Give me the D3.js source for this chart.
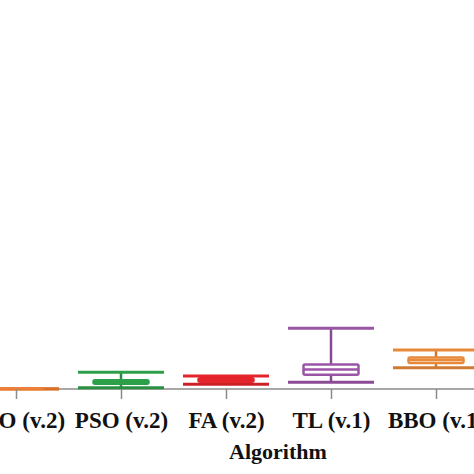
<!DOCTYPE html>
<html>
<head>
<meta charset="utf-8">
<script src="https://cdn.jsdelivr.net/npm/d3@7"></script>
<style>
  body { margin: 0; background: #fff; }
  svg { display: block; }
  .tick text, .x-title { font-family: "Liberation Serif", "Times New Roman", serif; font-weight: bold; fill: #111; }
</style>
</head>
<body>
<div id="chart"></div>
<script>
// categories and box statistics
const algorithms = ['BBO (v.2)', 'PSO (v.2)', 'FA (v.2)', 'TL (v.1)', 'BBO (v.1)'];
const minVals    = [0,   1.3,  4.7,  6.7, 21.3];
const q1Vals     = [0,   5.2,  7.2, 14.2, 26.0];
const medianVals = [0,   7.0,  9.0, 19.5, 29.0];
const q3Vals     = [0,   8.8, 10.8, 24.5, 31.5];
const maxVals    = [0.3, 16.7, 13.0, 60.7, 39.0];
const colors     = ['#ee7d31', '#2ca048', '#e3242b', '#9b55a6', '#e8893a'];

const width = 474, height = 474;
const axisY = 389;

const svg = d3.select('#chart').append('svg')
    .attr('width', width)
    .attr('height', height);

const x = d3.scalePoint().domain(algorithms).range([16, 436]);
const y = d3.scaleLinear().domain([0, 380]).range([axisY, 9]);

const capHalf = 43, boxHalf = 27.5;

const boxes = algorithms.map((name, i) => ({
    name, min: minVals[i], q1: q1Vals[i], median: medianVals[i],
    q3: q3Vals[i], max: maxVals[i], color: colors[i]
}));

// axis baseline spans the whole (cropped) plot
svg.append('line')
    .attr('x1', 0).attr('x2', width)
    .attr('y1', axisY).attr('y2', axisY)
    .attr('stroke', '#8a8a8a')
    .attr('stroke-width', 1.5);

const g = svg.selectAll('.box')
    .data(boxes)
    .enter().append('g')
    .attr('class', 'box');

// whiskers
g.append('line')
    .attr('x1', d => x(d.name)).attr('x2', d => x(d.name))
    .attr('y1', d => y(d.max)).attr('y2', d => y(d.q3))
    .attr('stroke', d => d3.color(d.color).darker(0.4))
    .attr('stroke-width', 2.5);
g.append('line')
    .attr('x1', d => x(d.name)).attr('x2', d => x(d.name))
    .attr('y1', d => y(d.q1)).attr('y2', d => y(d.min))
    .attr('stroke', d => d3.color(d.color).darker(0.4))
    .attr('stroke-width', 2.5);

// caps
g.append('line')
    .attr('x1', d => x(d.name) - capHalf).attr('x2', d => x(d.name) + capHalf)
    .attr('y1', d => y(d.max)).attr('y2', d => y(d.max))
    .attr('stroke', d => d.color)
    .attr('stroke-width', 3);
g.append('line')
    .attr('x1', d => x(d.name) - capHalf).attr('x2', d => x(d.name) + capHalf)
    .attr('y1', d => y(d.min)).attr('y2', d => y(d.min))
    .attr('stroke', d => d3.color(d.color).darker(0.3))
    .attr('stroke-width', 3);

// box
g.append('rect')
    .attr('x', d => x(d.name) - boxHalf)
    .attr('y', d => y(d.q3))
    .attr('width', boxHalf * 2)
    .attr('height', d => y(d.q1) - y(d.q3))
    .attr('rx', 1.5)
    .attr('fill', '#fff')
    .attr('stroke', d => d.color)
    .attr('stroke-width', 2.5);

// median
g.append('line')
    .attr('x1', d => x(d.name) - boxHalf).attr('x2', d => x(d.name) + boxHalf)
    .attr('y1', d => y(d.median)).attr('y2', d => y(d.median))
    .attr('stroke', d => d.color)
    .attr('stroke-width', 2.5);

// x axis ticks and labels
const xAxis = svg.append('g')
    .attr('class', 'x-axis')
    .attr('transform', `translate(0, ${axisY})`)
    .call(d3.axisBottom(x).tickSize(10).tickPadding(13).tickSizeOuter(0));
xAxis.select('.domain').remove();
xAxis.selectAll('.tick line').attr('stroke', '#8a8a8a').attr('stroke-width', 1.5);
xAxis.selectAll('.tick text').style('font-size', '23px');

svg.append('text')
    .attr('class', 'x-title')
    .attr('x', 278)
    .attr('y', 459)
    .attr('text-anchor', 'middle')
    .style('font-size', '22px')
    .text('Algorithm');
</script>
</body>
</html>
